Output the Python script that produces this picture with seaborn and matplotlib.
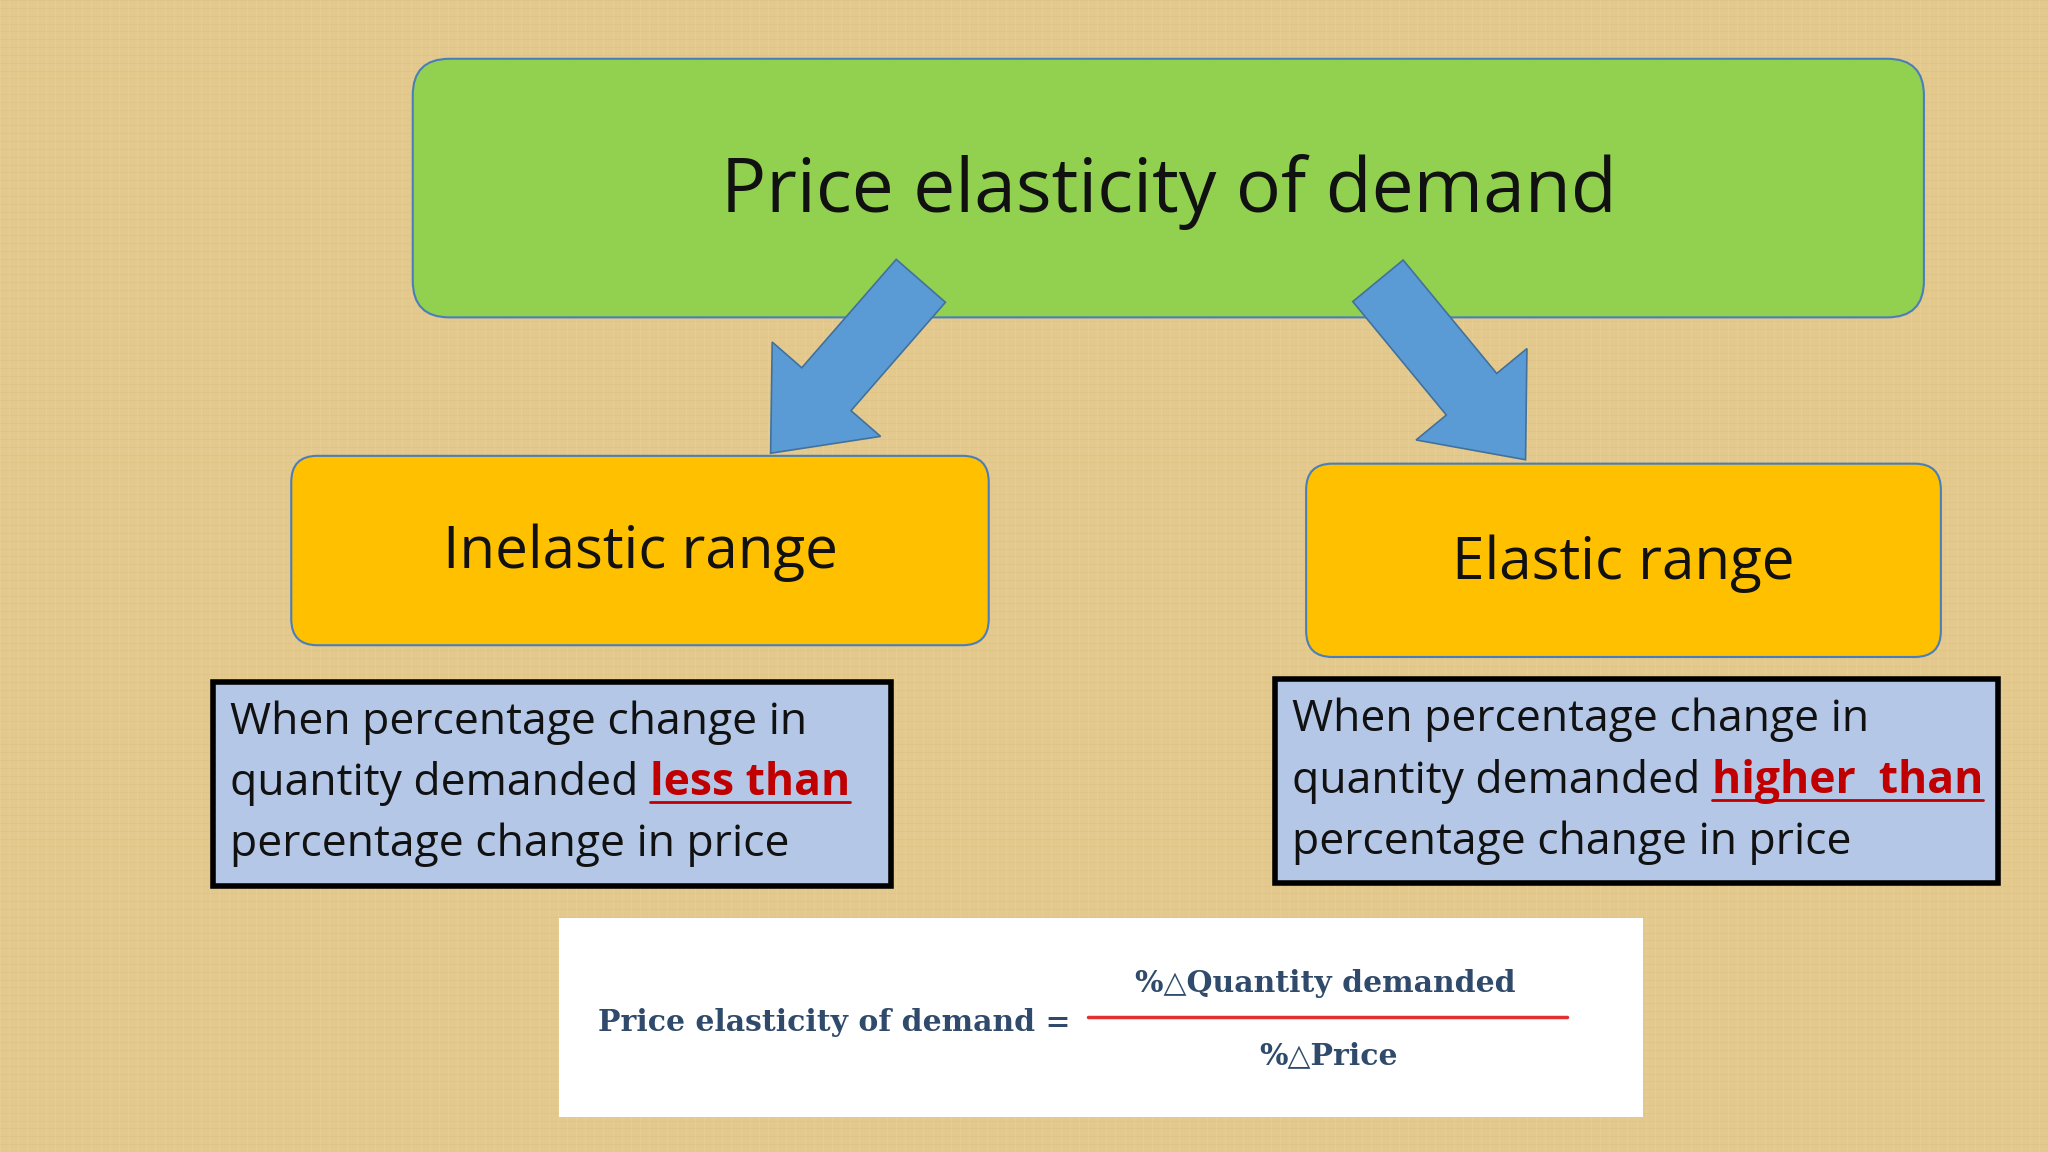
import matplotlib
matplotlib.use("Agg")
import matplotlib.pyplot as plt
import seaborn as sns
from matplotlib.patches import FancyBboxPatch, Rectangle, FancyArrow

sns.set_theme(style="white")
plt.rcParams['font.family'] = ['Open Sans', 'DejaVu Sans']

# texts
titulo = "Price elasticity of demand"
faixas = ["Inelastic range", "Elastic range"]
linha1 = "When percentage change in"
linha2 = "quantity demanded "
destaques = ["less than", "higher  than"]
linha3 = "percentage change in price"
formula_esq = "Price elasticity of demand ="
formula_num = "%\u25b3Quantity demanded"
formula_den = "%\u25b3Price"

W, H = 1568, 882
fig = plt.figure(figsize=(20.48, 11.52), dpi=100)
ax = fig.add_axes([0, 0, 1, 1])
ax.set_xlim(0, W)
ax.set_ylim(H, 0)
ax.axis('off')
fig.patch.set_facecolor('#e3c98d')

# faint texture
for y in range(0, H, 6):
    ax.plot([0, W], [y, y], color='#d8bb78', lw=0.6, alpha=0.35, zorder=0)
for x in range(0, W, 7):
    ax.plot([x, x], [0, H], color='#f0dca8', lw=0.6, alpha=0.3, zorder=0)

def caixa(x0, y0, x1, y1, cor, borda, r=28, lw=1.5):
    ax.add_patch(FancyBboxPatch((x0 + r, y0 + r), x1 - x0 - 2 * r, y1 - y0 - 2 * r,
                                boxstyle=f"round,pad={r}", fc=cor, ec=borda, lw=lw, zorder=2))

caixa(316, 45, 1473, 243, '#92d050', '#4a7ebb')
ax.text(895, 147, titulo, fontsize=54, ha='center', va='center', color='#111111', zorder=5)

# arrows
for (x0, y0, x1, y1) in [(705, 215, 590, 347), (1055, 215, 1168, 352)]:
    ax.add_patch(FancyArrow(x0, y0, x1 - x0, y1 - y0, width=50, head_width=110,
                            head_length=65, length_includes_head=True,
                            fc='#5b9bd5', ec='#41719c', lw=1.2, zorder=3))

caixa(223, 349, 757, 494, '#ffc000', '#4a7ebb', r=20)
caixa(1000, 355, 1486, 503, '#ffc000', '#4a7ebb', r=20)
ax.text(490, 423, faixas[0], fontsize=42, ha='center', va='center', color='#111111', zorder=5)
ax.text(1243, 432, faixas[1], fontsize=42, ha='center', va='center', color='#111111', zorder=5)

caixas_azuis = [(163, 522, 682, 678, 176, 553), (976, 520, 1530, 676, 989, 551)]
fig.canvas.draw()
r = fig.canvas.get_renderer()
inv = ax.transData.inverted()
for i, (x0, y0, x1, y1, tx, ty) in enumerate(caixas_azuis):
    ax.add_patch(Rectangle((x0, y0), x1 - x0, y1 - y0, fc='#b4c7e7', ec='black', lw=4, zorder=2))
    ax.text(tx, ty, linha1, fontsize=32, va='center', color='#111111', zorder=5)
    t2 = ax.text(tx, ty + 47, linha2, fontsize=32, va='center', color='#111111', zorder=5)
    bb = t2.get_window_extent(r)
    xe = inv.transform((bb.x1, bb.y0))[0]
    t3 = ax.text(xe, ty + 47, destaques[i], fontsize=32, va='center', color='#c00000',
                 fontweight='bold', zorder=5)
    bb3 = t3.get_window_extent(r)
    (ux0, uy), (ux1, _) = inv.transform([(bb3.x0, bb3.y0), (bb3.x1, bb3.y0)])
    ax.plot([ux0, ux1], [uy - 3, uy - 3], color='#c00000', lw=2, zorder=5)
    ax.text(tx, ty + 94, linha3, fontsize=32, va='center', color='#111111', zorder=5)

# formula
ax.add_patch(Rectangle((428, 703), 830, 152, fc='white', ec='none', zorder=2))
fkw = dict(family=['DejaVu Serif'], fontweight='bold', color='#2f4a6b', fontsize=21.5, zorder=5)
ax.text(458, 783, formula_esq, va='center', ha='left', **fkw)
ax.text(1015, 753, formula_num, va='center', ha='center', **fkw)
ax.text(1017, 808, formula_den, va='center', ha='center', **fkw)
ax.plot([833, 1200], [779, 779], color='#e03030', lw=2.5, zorder=5)

fig.savefig('out.png', dpi=100)
